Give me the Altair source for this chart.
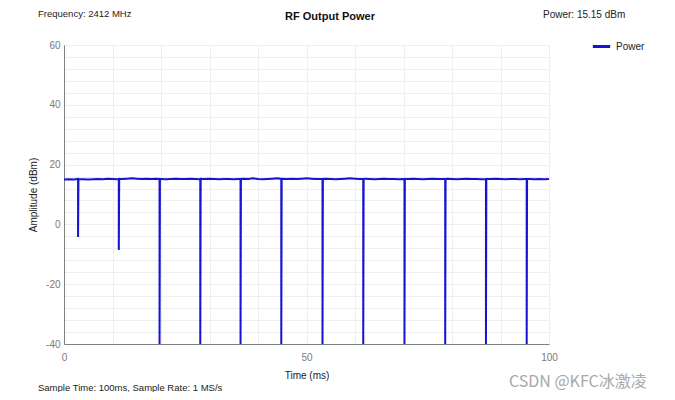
import altair as alt
import pandas as pd

# ---- data ----
base_time = list(range(0, 101))
base_power = [15.0, 15.1, 15.0, 15.2, 15.1, 15.0, 15.1, 15.2, 15.1, 15.3, 15.2, 15.1,
              15.2, 15.3, 15.4, 15.3, 15.2, 15.3, 15.2, 15.3, 15.2, 15.1, 15.2, 15.3,
              15.2, 15.2, 15.3, 15.2, 15.1, 15.2, 15.3, 15.2, 15.1, 15.2, 15.2, 15.1,
              15.2, 15.3, 15.2, 15.4, 15.2, 15.1, 15.2, 15.3, 15.4, 15.3, 15.2, 15.3,
              15.2, 15.3, 15.4, 15.3, 15.2, 15.2, 15.3, 15.2, 15.1, 15.2, 15.3, 15.4,
              15.3, 15.2, 15.3, 15.2, 15.1, 15.2, 15.3, 15.2, 15.2, 15.1, 15.2, 15.2,
              15.3, 15.2, 15.1, 15.2, 15.3, 15.2, 15.2, 15.3, 15.2, 15.1, 15.2, 15.3,
              15.2, 15.2, 15.1, 15.2, 15.2, 15.3, 15.2, 15.1, 15.2, 15.2, 15.1, 15.2,
              15.2, 15.1, 15.2, 15.1, 15.2]
spike_time = [2.9, 11.3, 19.7, 28.1, 36.4, 44.8, 53.3, 61.7, 70.2, 78.6, 87.0, 95.4]
spike_min = [-4.2, -8.6, -40, -40, -40, -40, -40, -40, -40, -40, -40, -40]

series_name = "Power"
freq_text = "Frequency: 2412 MHz"
power_text = "Power: 15.15 dBm"
sample_text = "Sample Time: 100ms,  Sample Rate: 1 MS/s"
chart_title = "RF Output Power"
watermark = "CSDN @KFC冰激凌"

# ---- build ordered point list (baseline + vertical spikes) ----
pts = [(t, v) for t, v in zip(base_time, base_power)]
for t, m in zip(spike_time, spike_min):
    pts.append((t - 0.001, 15.2))
    pts.append((t, m))
    pts.append((t + 0.08, 15.2))
pts.sort(key=lambda p: p[0])
df = pd.DataFrame({"t": [p[0] for p in pts], "p": [p[1] for p in pts],
                   "idx": list(range(len(pts))), "s": series_name})

FONT = "Liberation Sans"
W, H = 485, 299

y_vals = list(range(-40, 61, 4))
x_vals = list(range(0, 101, 10))

line = alt.Chart(df).mark_line(strokeWidth=2, clip=True).encode(
    x=alt.X("t:Q", scale=alt.Scale(domain=[0, 100], nice=False),
            axis=alt.Axis(values=x_vals, title="Time (ms)",
                          labelExpr="datum.value % 50 == 0 ? datum.label : ''",
                          ticks=False, labelPadding=8, titlePadding=8, labelFlush=False,
                          gridColor="#efefef", domainColor="#808080",
                          labelColor="#7a7a7a", labelFontSize=10,
                          titleFontSize=10, titleFontWeight="normal",
                          titleColor="#222222", labelFont=FONT, titleFont=FONT)),
    y=alt.Y("p:Q", scale=alt.Scale(domain=[-40, 60], nice=False),
            axis=alt.Axis(values=y_vals, title="Amplitude (dBm)",
                          labelExpr="datum.value % 20 == 0 ? replace(datum.label, '\u2212', '-') : ''",
                          ticks=False, labelPadding=4, titlePadding=7, labelFlush=False,
                          gridColor="#efefef", domainColor="#808080",
                          labelColor="#7a7a7a", labelFontSize=10,
                          titleFontSize=10, titleFontWeight="normal",
                          titleColor="#222222", labelFont=FONT, titleFont=FONT)),
    order="idx:Q",
    color=alt.Color("s:N", scale=alt.Scale(domain=[series_name], range=["#1414d2"]),
                    legend=alt.Legend(title=None, orient="none", legendX=527, legendY=-9,
                                      symbolType="stroke", symbolStrokeWidth=3,
                                      symbolSize=300, labelFontSize=10, labelFont=FONT,
                                      labelColor="#222222", symbolStrokeColor="#0000b4")),
)

def txt(s, x, y, **kw):
    return alt.Chart(pd.DataFrame({"txt": [s]})).mark_text(
        font=FONT, align="left", baseline="middle", **kw
    ).encode(text="txt:N", x=alt.value(x), y=alt.value(y))

title_mark = alt.Chart(pd.DataFrame({"txt": [chart_title]})).mark_text(
    font=FONT, align="center", baseline="middle", fontSize=11, fontWeight="bold",
    color="#111111").encode(text="txt:N", x=alt.value(266), y=alt.value(-28))

chart = alt.layer(
    line,
    title_mark,
    txt(freq_text, -26, -31, fontSize=9.5, color="#222222"),
    txt(power_text, 479, -30, fontSize=10, color="#222222"),
    txt(sample_text, -26, 343, fontSize=9.5, color="#222222"),
    alt.Chart(pd.DataFrame({"txt": [watermark]})).mark_text(
        font="Noto Sans CJK SC", align="left", baseline="middle", fontSize=16,
        color="#a8a8a8").encode(text="txt:N", x=alt.value(445), y=alt.value(337)),
).properties(
    width=W, height=H,
    autosize=alt.AutoSizeParams(type="none"),
    padding={"left": 56, "top": 37, "right": 118, "bottom": 48},
).configure_view(stroke=None).configure(background="white")

chart.save("out.html", embed_options={"renderer": "svg", "actions": False})
